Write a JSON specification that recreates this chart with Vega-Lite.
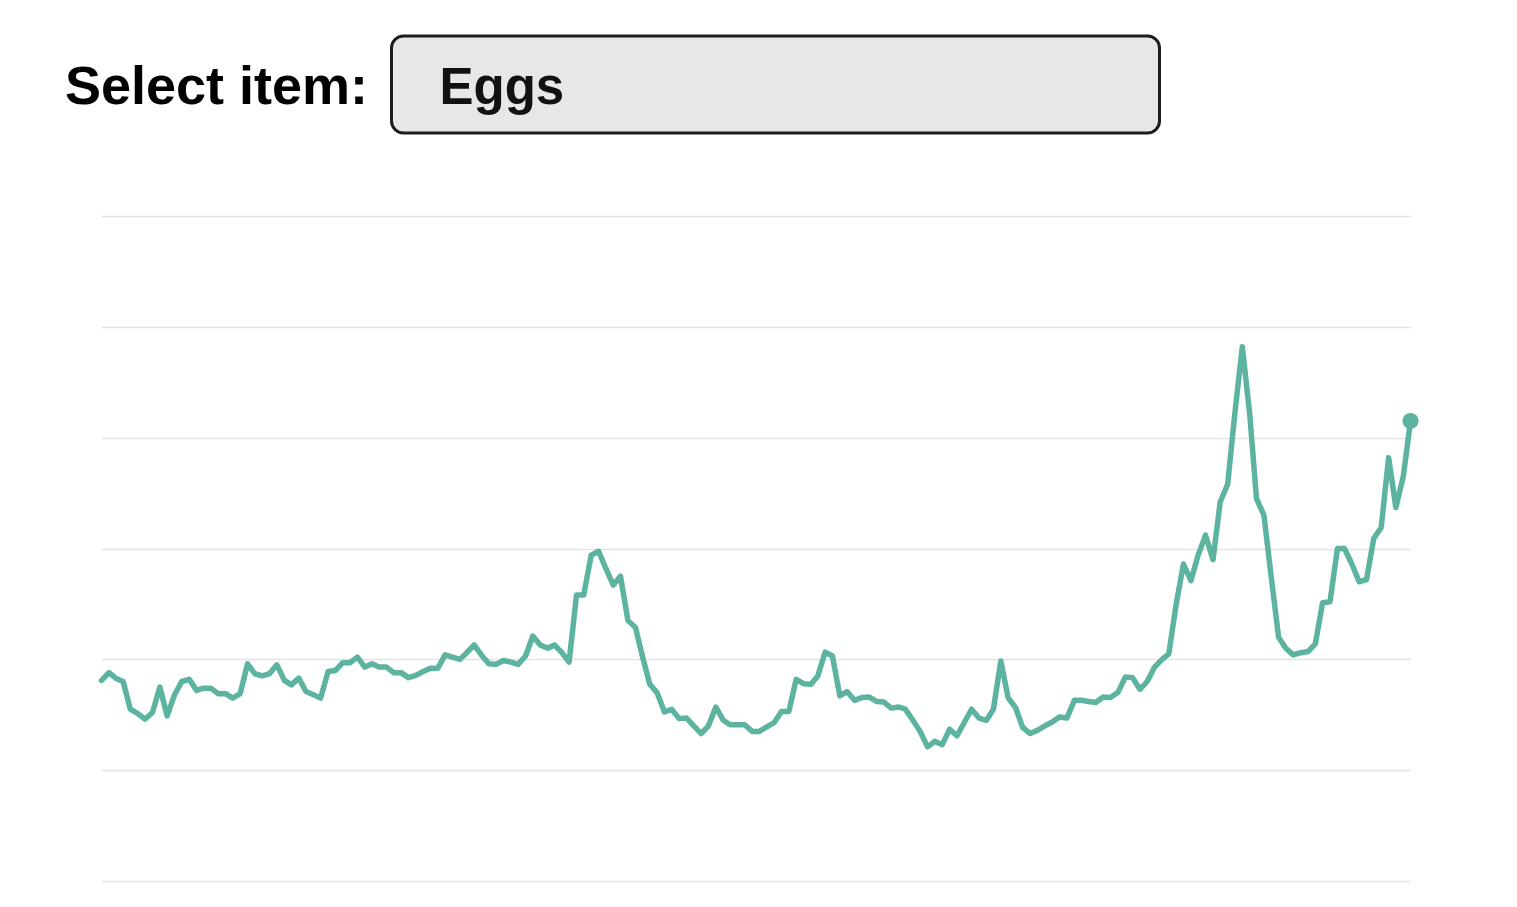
{
  "$schema": "https://vega.github.io/schema/vega-lite/v6.json",
  "background": "white",
  "padding": {"left": 64.5, "top": 34, "right": 5, "bottom": 5},
  "config": {"view": {"stroke": null}, "font": "Liberation Sans"},
  "datasets": {
    "widget": [{"label": "Select item:", "item": "Eggs"}],
    "prices": [
      {"date": "2010-01-01", "price": 1.81}, {"date": "2010-02-01", "price": 1.88}, {"date": "2010-03-01", "price": 1.83},
      {"date": "2010-04-01", "price": 1.80}, {"date": "2010-05-01", "price": 1.55}, {"date": "2010-06-01", "price": 1.51},
      {"date": "2010-07-01", "price": 1.46}, {"date": "2010-08-01", "price": 1.52}, {"date": "2010-09-01", "price": 1.75},
      {"date": "2010-10-01", "price": 1.49}, {"date": "2010-11-01", "price": 1.68}, {"date": "2010-12-01", "price": 1.80},
      {"date": "2011-01-01", "price": 1.82}, {"date": "2011-02-01", "price": 1.72}, {"date": "2011-03-01", "price": 1.74},
      {"date": "2011-04-01", "price": 1.74}, {"date": "2011-05-01", "price": 1.69}, {"date": "2011-06-01", "price": 1.69},
      {"date": "2011-07-01", "price": 1.65}, {"date": "2011-08-01", "price": 1.69}, {"date": "2011-09-01", "price": 1.96},
      {"date": "2011-10-01", "price": 1.87}, {"date": "2011-11-01", "price": 1.85}, {"date": "2011-12-01", "price": 1.87},
      {"date": "2012-01-01", "price": 1.95}, {"date": "2012-02-01", "price": 1.81}, {"date": "2012-03-01", "price": 1.77},
      {"date": "2012-04-01", "price": 1.83}, {"date": "2012-05-01", "price": 1.71}, {"date": "2012-06-01", "price": 1.68},
      {"date": "2012-07-01", "price": 1.65}, {"date": "2012-08-01", "price": 1.89}, {"date": "2012-09-01", "price": 1.90},
      {"date": "2012-10-01", "price": 1.97}, {"date": "2012-11-01", "price": 1.97}, {"date": "2012-12-01", "price": 2.02},
      {"date": "2013-01-01", "price": 1.93}, {"date": "2013-02-01", "price": 1.96}, {"date": "2013-03-01", "price": 1.93},
      {"date": "2013-04-01", "price": 1.93}, {"date": "2013-05-01", "price": 1.88}, {"date": "2013-06-01", "price": 1.88},
      {"date": "2013-07-01", "price": 1.835}, {"date": "2013-08-01", "price": 1.855}, {"date": "2013-09-01", "price": 1.89},
      {"date": "2013-10-01", "price": 1.92}, {"date": "2013-11-01", "price": 1.92}, {"date": "2013-12-01", "price": 2.04},
      {"date": "2014-01-01", "price": 2.02}, {"date": "2014-02-01", "price": 2.00}, {"date": "2014-03-01", "price": 2.06},
      {"date": "2014-04-01", "price": 2.13}, {"date": "2014-05-01", "price": 2.04}, {"date": "2014-06-01", "price": 1.96},
      {"date": "2014-07-01", "price": 1.955}, {"date": "2014-08-01", "price": 1.99}, {"date": "2014-09-01", "price": 1.975},
      {"date": "2014-10-01", "price": 1.955}, {"date": "2014-11-01", "price": 2.03}, {"date": "2014-12-01", "price": 2.21},
      {"date": "2015-01-01", "price": 2.13}, {"date": "2015-02-01", "price": 2.10}, {"date": "2015-03-01", "price": 2.13},
      {"date": "2015-04-01", "price": 2.06}, {"date": "2015-05-01", "price": 1.975}, {"date": "2015-06-01", "price": 2.58},
      {"date": "2015-07-01", "price": 2.58}, {"date": "2015-08-01", "price": 2.94}, {"date": "2015-09-01", "price": 2.975},
      {"date": "2015-10-01", "price": 2.82}, {"date": "2015-11-01", "price": 2.67}, {"date": "2015-12-01", "price": 2.75},
      {"date": "2016-01-01", "price": 2.35}, {"date": "2016-02-01", "price": 2.29}, {"date": "2016-03-01", "price": 2.03},
      {"date": "2016-04-01", "price": 1.775}, {"date": "2016-05-01", "price": 1.70}, {"date": "2016-06-01", "price": 1.525},
      {"date": "2016-07-01", "price": 1.55}, {"date": "2016-08-01", "price": 1.465}, {"date": "2016-09-01", "price": 1.47},
      {"date": "2016-10-01", "price": 1.40}, {"date": "2016-11-01", "price": 1.33}, {"date": "2016-12-01", "price": 1.40},
      {"date": "2017-01-01", "price": 1.57}, {"date": "2017-02-01", "price": 1.45}, {"date": "2017-03-01", "price": 1.41},
      {"date": "2017-04-01", "price": 1.41}, {"date": "2017-05-01", "price": 1.41}, {"date": "2017-06-01", "price": 1.35},
      {"date": "2017-07-01", "price": 1.35}, {"date": "2017-08-01", "price": 1.39}, {"date": "2017-09-01", "price": 1.43},
      {"date": "2017-10-01", "price": 1.53}, {"date": "2017-11-01", "price": 1.53}, {"date": "2017-12-01", "price": 1.82},
      {"date": "2018-01-01", "price": 1.78}, {"date": "2018-02-01", "price": 1.775}, {"date": "2018-03-01", "price": 1.85},
      {"date": "2018-04-01", "price": 2.065}, {"date": "2018-05-01", "price": 2.03}, {"date": "2018-06-01", "price": 1.67},
      {"date": "2018-07-01", "price": 1.71}, {"date": "2018-08-01", "price": 1.63}, {"date": "2018-09-01", "price": 1.655},
      {"date": "2018-10-01", "price": 1.66}, {"date": "2018-11-01", "price": 1.62}, {"date": "2018-12-01", "price": 1.615},
      {"date": "2019-01-01", "price": 1.56}, {"date": "2019-02-01", "price": 1.57}, {"date": "2019-03-01", "price": 1.55},
      {"date": "2019-04-01", "price": 1.45}, {"date": "2019-05-01", "price": 1.35}, {"date": "2019-06-01", "price": 1.21},
      {"date": "2019-07-01", "price": 1.26}, {"date": "2019-08-01", "price": 1.23}, {"date": "2019-09-01", "price": 1.37},
      {"date": "2019-10-01", "price": 1.31}, {"date": "2019-11-01", "price": 1.43}, {"date": "2019-12-01", "price": 1.55},
      {"date": "2020-01-01", "price": 1.47}, {"date": "2020-02-01", "price": 1.45}, {"date": "2020-03-01", "price": 1.55},
      {"date": "2020-04-01", "price": 1.985}, {"date": "2020-05-01", "price": 1.655}, {"date": "2020-06-01", "price": 1.565},
      {"date": "2020-07-01", "price": 1.385}, {"date": "2020-08-01", "price": 1.33}, {"date": "2020-09-01", "price": 1.36},
      {"date": "2020-10-01", "price": 1.40}, {"date": "2020-11-01", "price": 1.435}, {"date": "2020-12-01", "price": 1.48},
      {"date": "2021-01-01", "price": 1.47}, {"date": "2021-02-01", "price": 1.63}, {"date": "2021-03-01", "price": 1.63},
      {"date": "2021-04-01", "price": 1.62}, {"date": "2021-05-01", "price": 1.61}, {"date": "2021-06-01", "price": 1.66},
      {"date": "2021-07-01", "price": 1.655}, {"date": "2021-08-01", "price": 1.70}, {"date": "2021-09-01", "price": 1.84},
      {"date": "2021-10-01", "price": 1.835}, {"date": "2021-11-01", "price": 1.73}, {"date": "2021-12-01", "price": 1.80},
      {"date": "2022-01-01", "price": 1.93}, {"date": "2022-02-01", "price": 2.00}, {"date": "2022-03-01", "price": 2.05},
      {"date": "2022-04-01", "price": 2.50}, {"date": "2022-05-01", "price": 2.86}, {"date": "2022-06-01", "price": 2.71},
      {"date": "2022-07-01", "price": 2.94}, {"date": "2022-08-01", "price": 3.12}, {"date": "2022-09-01", "price": 2.90},
      {"date": "2022-10-01", "price": 3.42}, {"date": "2022-11-01", "price": 3.58}, {"date": "2022-12-01", "price": 4.22},
      {"date": "2023-01-01", "price": 4.82}, {"date": "2023-02-01", "price": 4.21}, {"date": "2023-03-01", "price": 3.45},
      {"date": "2023-04-01", "price": 3.30}, {"date": "2023-05-01", "price": 2.75}, {"date": "2023-06-01", "price": 2.20},
      {"date": "2023-07-01", "price": 2.10}, {"date": "2023-08-01", "price": 2.04}, {"date": "2023-09-01", "price": 2.06},
      {"date": "2023-10-01", "price": 2.07}, {"date": "2023-11-01", "price": 2.14}, {"date": "2023-12-01", "price": 2.51},
      {"date": "2024-01-01", "price": 2.52}, {"date": "2024-02-01", "price": 3.00}, {"date": "2024-03-01", "price": 3.00},
      {"date": "2024-04-01", "price": 2.86}, {"date": "2024-05-01", "price": 2.70}, {"date": "2024-06-01", "price": 2.72},
      {"date": "2024-07-01", "price": 3.09}, {"date": "2024-08-01", "price": 3.19}, {"date": "2024-09-01", "price": 3.82},
      {"date": "2024-10-01", "price": 3.37}, {"date": "2024-11-01", "price": 3.65}, {"date": "2024-12-01", "price": 4.15}
    ]
  },
  "spacing": 81,
  "vconcat": [
    {
      "bounds": "flush",
      "spacing": 60,
      "hconcat": [
        {
          "width": 230,
          "height": 97,
          "data": {"name": "widget"},
          "mark": {"type": "text", "fontSize": 54, "fontWeight": "bold", "color": "#000000", "dy": 3},
          "encoding": {"text": {"field": "label"}}
        },
        {
          "width": 768,
          "height": 97,
          "data": {"name": "widget"},
          "layer": [
            {
              "mark": {"type": "rect", "fill": "#e7e6e8", "stroke": "#1c1c1e", "strokeWidth": 3, "cornerRadius": 12},
              "encoding": {}
            },
            {
              "mark": {"type": "text", "align": "left", "dx": -336, "dy": 4, "fontSize": 51, "fontWeight": "bold", "color": "#111111"},
              "encoding": {"text": {"field": "item"}}
            }
          ]
        }
      ]
    },
    {
      "width": 1309,
      "height": 665,
      "data": {"name": "prices"},
      "encoding": {
        "x": {"field": "date", "type": "temporal", "axis": null, "scale": {"nice": false}},
        "y": {
          "field": "price",
          "type": "quantitative",
          "scale": {"domain": [0, 6], "nice": false},
          "axis": {
            "values": [0, 1, 2, 3, 4, 5, 6],
            "grid": true,
            "gridColor": "#e3e3e3",
            "gridWidth": 1.3,
            "labels": false,
            "ticks": false,
            "domain": false,
            "title": null
          }
        }
      },
      "layer": [
        {
          "mark": {"type": "line", "color": "#5cb39f", "strokeWidth": 5.5, "strokeJoin": "round", "strokeCap": "round"},
          "encoding": {}
        },
        {
          "transform": [
            {"window": [{"op": "row_number", "as": "rn"}], "sort": [{"field": "date", "order": "descending"}]},
            {"filter": "datum.rn === 1"}
          ],
          "mark": {"type": "point", "filled": true, "opacity": 1, "color": "#5cb39f", "size": 260},
          "encoding": {}
        }
      ]
    }
  ]
}
